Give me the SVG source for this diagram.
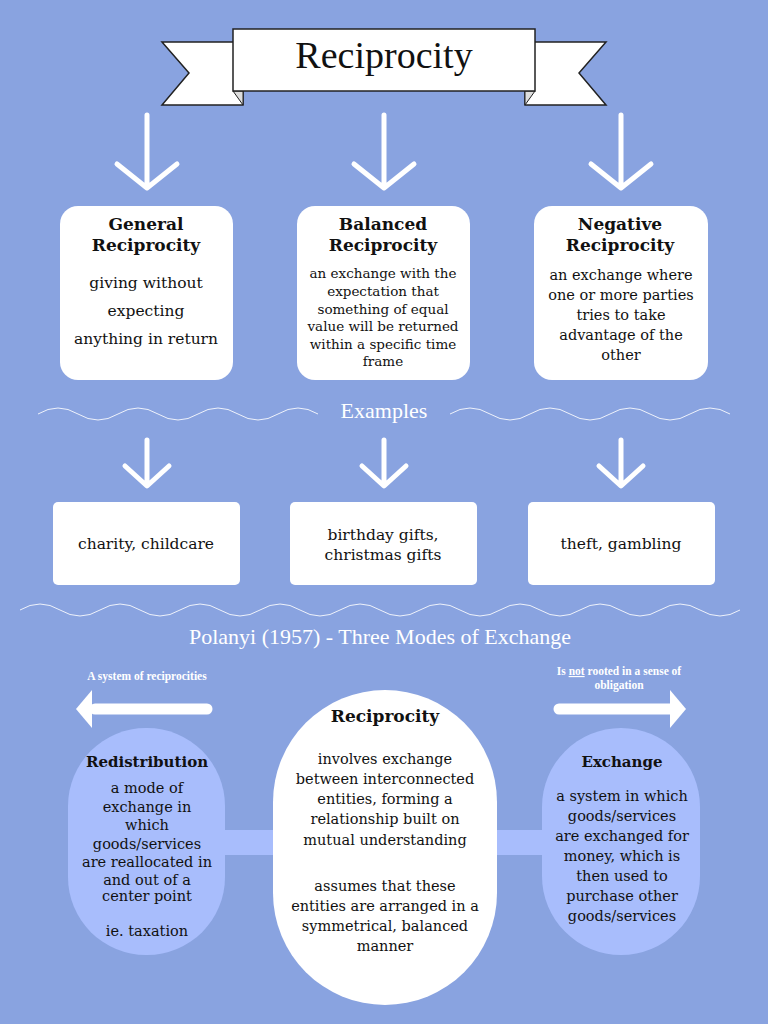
<svg xmlns="http://www.w3.org/2000/svg" width="768" height="1024" viewBox="0 0 768 1024">
<style>
text{font-family:"DejaVu Serif","Liberation Serif",serif;text-anchor:middle;fill:#111}
.h{font-weight:bold;font-size:17px}
.b{font-size:15.5px}
.s{font-size:14.5px}
.w{fill:#fff}
.arr{stroke:#fff;stroke-width:5;fill:none;stroke-linecap:round;stroke-linejoin:round}
.wave{stroke:#fff;stroke-width:1;fill:none;opacity:.85}
.box{fill:#fff}
.pill{fill:#a8bdfc}
</style>
<rect width="768" height="1024" fill="#89a3e0"/>
<g id="banner">
<polygon points="162,42 243,42 243,105 162,105 189,73" fill="#fff" stroke="#222" stroke-width="1.5"/>
<polygon points="606,42 525,42 525,105 606,105 579,73" fill="#fff" stroke="#222" stroke-width="1.5"/>
<polygon points="233,91 243,105 243,91" fill="#ddd" stroke="#222" stroke-width="1"/>
<polygon points="535,91 525,105 525,91" fill="#ddd" stroke="#222" stroke-width="1"/>
<rect x="233" y="29" width="302" height="62" fill="#fff" stroke="#222" stroke-width="1.5"/>
<text x="384" y="68" style="font-size:38px;font-family:'Liberation Serif',serif">Reciprocity</text>
</g>
<g id="connectors">
<path class="arr" d="M147,115V186M117,164L147,188L177,164"/>
<path class="arr" d="M384,115V186M354,164L384,188L414,164"/>
<path class="arr" d="M621,115V186M591,164L621,188L651,164"/>
<path class="arr" d="M147,440V485M125,466L147,486L169,466"/>
<path class="arr" d="M384,440V485M362,466L384,486L406,466"/>
<path class="arr" d="M621,440V485M599,466L621,486L643,466"/>
<path class="wave" d="M38,414 q20,-12 40,0 t40,0 t40,0 t40,0 t40,0 t40,0 t40,0"/>
<path class="wave" d="M450,414 q20,-12 40,0 t40,0 t40,0 t40,0 t40,0 t40,0 t40,0"/>
<path class="wave" d="M20,610 q20,-12 40,0 t40,0 t40,0 t40,0 t40,0 t40,0 t40,0 t40,0 t40,0 t40,0 t40,0 t40,0 t40,0 t40,0 t40,0 t40,0 t40,0 t40,0"/>
<rect x="225" y="830" width="320" height="25" fill="#a8bdfc"/>
<path d="M207,709H95" stroke="#fff" stroke-width="11" stroke-linecap="round"/>
<polygon points="76,709 92,690 92,728" fill="#fff"/>
<path d="M559,709H670" stroke="#fff" stroke-width="11" stroke-linecap="round"/>
<polygon points="686,709 670,690 670,728" fill="#fff"/>
</g>
<text x="384" y="418" class="w" style="font-size:22px;font-family:'Liberation Serif',serif">Examples</text>
<text x="380" y="644" class="w" style="font-size:22px;font-family:'Liberation Serif',serif">Polanyi (1957) - Three Modes of Exchange</text>
<text x="147" y="680" class="w" style="font-size:11.5px;font-weight:bold;font-family:'Liberation Serif',serif">A system of reciprocities</text>
<text x="619" y="675" class="w" style="font-size:11.5px;font-weight:bold;font-family:'Liberation Serif',serif">Is <tspan text-decoration="underline">not</tspan> rooted in a sense of</text>
<text x="619" y="689" class="w" style="font-size:11.5px;font-weight:bold;font-family:'Liberation Serif',serif">obligation</text>
<g id="general">
<rect class="box" x="60" y="206" width="173" height="174" rx="18"/>
<text class="h" x="146" y="230">General</text><text class="h" x="146" y="251">Reciprocity</text>
<text class="b" x="146" y="288">giving without</text><text class="b" x="146" y="316">expecting</text><text class="b" x="146" y="344">anything in return</text>
</g>
<g id="balanced">
<rect class="box" x="297" y="206" width="173" height="174" rx="18"/>
<text class="h" x="383" y="230">Balanced</text><text class="h" x="383" y="251">Reciprocity</text>
<text x="383" y="278" style="font-size:13.5px">an exchange with the</text>
<text x="383" y="296" style="font-size:13.5px">expectation that</text>
<text x="383" y="314" style="font-size:13.5px">something of equal</text>
<text x="383" y="331" style="font-size:13.5px">value will be returned</text>
<text x="383" y="349" style="font-size:13.5px">within a specific time</text>
<text x="383" y="366" style="font-size:13.5px">frame</text>
</g>
<g id="negative">
<rect class="box" x="534" y="206" width="174" height="174" rx="18"/>
<text class="h" x="620" y="230">Negative</text><text class="h" x="620" y="251">Reciprocity</text>
<text class="s" x="621" y="280">an exchange where</text>
<text class="s" x="621" y="300">one or more parties</text>
<text class="s" x="621" y="320">tries to take</text>
<text class="s" x="621" y="340">advantage of the</text>
<text class="s" x="621" y="360">other</text>
</g>
<g id="ex1"><rect class="box" x="53" y="502" width="187" height="83" rx="5"/><text class="b" x="146" y="549">charity, childcare</text></g>
<g id="ex2"><rect class="box" x="290" y="502" width="187" height="83" rx="5"/><text class="b" x="383" y="540">birthday gifts,</text><text class="b" x="383" y="560">christmas gifts</text></g>
<g id="ex3"><rect class="box" x="528" y="502" width="187" height="83" rx="5"/><text class="b" x="621" y="549">theft, gambling</text></g>
<g id="redistribution">
<rect class="pill" x="68" y="728" width="157" height="227" rx="78"/>
<text class="h" x="147" y="767" style="font-size:15px">Redistribution</text>
<text class="s" x="147" y="793">a mode of</text><text class="s" x="147" y="812">exchange in</text><text class="s" x="147" y="830">which</text>
<text class="s" x="147" y="849">goods/services</text><text class="s" x="147" y="867">are reallocated in</text><text class="s" x="147" y="885">and out of a</text>
<text class="s" x="147" y="901">center point</text><text class="s" x="147" y="936">ie. taxation</text>
</g>
<g id="reciprocity">
<rect x="273" y="690" width="224" height="315" rx="112" fill="#fff"/>
<text class="h" x="385" y="722">Reciprocity</text>
<text class="s" x="385" y="764">involves exchange</text><text class="s" x="385" y="784">between interconnected</text>
<text class="s" x="385" y="804">entities, forming a</text><text class="s" x="385" y="824">relationship built on</text>
<text class="s" x="385" y="845">mutual understanding</text>
<text class="s" x="385" y="891">assumes that these</text><text class="s" x="385" y="911">entities are arranged in a</text>
<text class="s" x="385" y="931">symmetrical, balanced</text><text class="s" x="385" y="951">manner</text>
</g>
<g id="exchange">
<rect class="pill" x="542" y="728" width="158" height="227" rx="79"/>
<text class="h" x="622" y="767" style="font-size:15px">Exchange</text>
<text class="s" x="622" y="801">a system in which</text><text class="s" x="622" y="821">goods/services</text>
<text class="s" x="622" y="841">are exchanged for</text><text class="s" x="622" y="861">money, which is</text>
<text class="s" x="622" y="881">then used to</text><text class="s" x="622" y="901">purchase other</text><text class="s" x="622" y="921">goods/services</text>
</g>
</svg>
